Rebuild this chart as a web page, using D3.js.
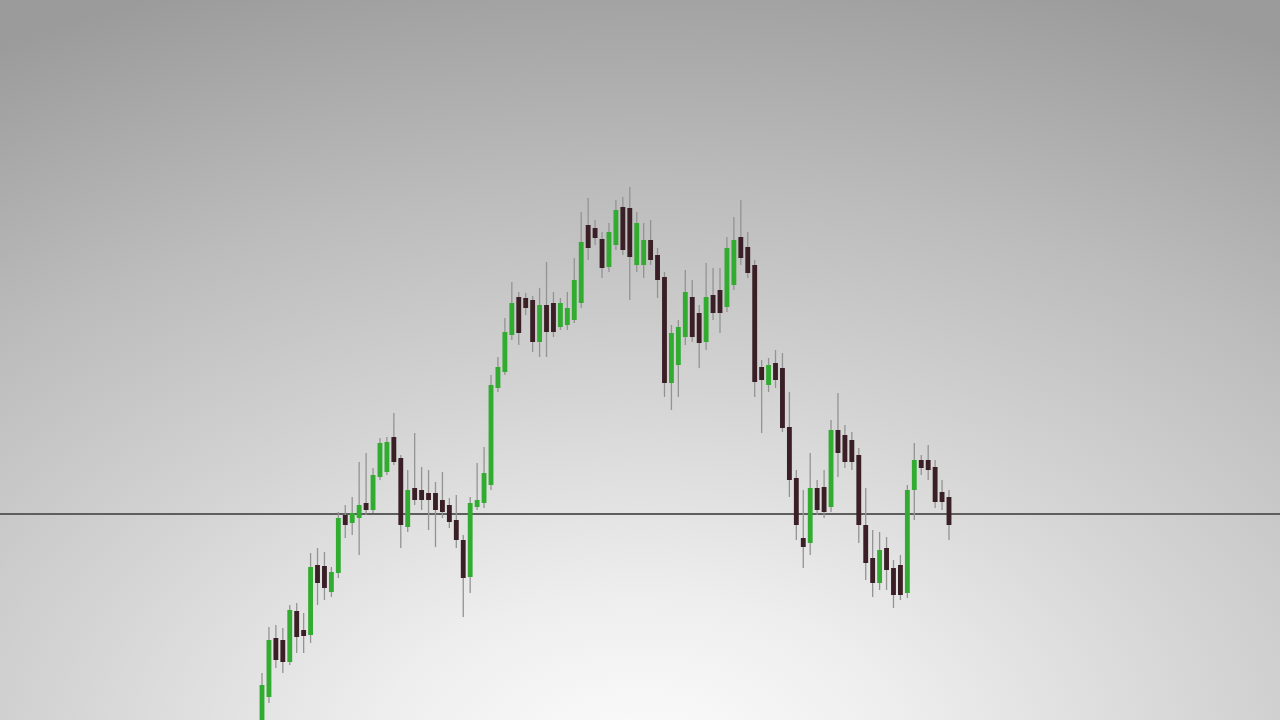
<!DOCTYPE html>
<html>
<head>
<meta charset="utf-8">
<script src="https://cdn.jsdelivr.net/npm/d3@7"></script>
<style>
  html, body { margin: 0; padding: 0; overflow: hidden; background: #ccc; }
  svg { display: block; }
</style>
</head>
<body>
<svg id="chart" width="1280" height="720"></svg>
<script>
// ---- Data (price levels) ----
const openV  = [792,817,876,874,852,903,884,879,949,948,922,941,999,991,996,1011,1004,1037,1042,1077,
                1056,987,1026,1024,1021,1021,1014,1009,994,974,937,1007,1011,1029,1126,1142,1179,1217,1216,1214,
                1172,1209,1211,1187,1189,1194,1211,1289,1286,1275,1247,1269,1307,1306,1249,1249,1274,1259,1237,1131,
                1149,1177,1217,1201,1172,1219,1224,1207,1229,1277,1267,1249,1147,1129,1151,1146,1087,1036,976,971,
                1026,1027,1007,1084,1079,1074,1059,989,956,931,966,946,949,921,1024,1054,1054,1047,1022,1017];
const highV  = [841,887,889,886,909,911,901,961,966,962,947,1002,1009,1017,1052,1061,1046,1076,1077,1101,
                1059,1044,1081,1047,1044,1032,1042,1016,1019,979,1017,1051,1067,1139,1157,1196,1232,1222,1221,1218,
                1226,1252,1222,1216,1222,1256,1302,1316,1294,1282,1291,1314,1317,1327,1302,1291,1294,1266,1242,1189,
                1194,1244,1234,1209,1251,1246,1246,1277,1297,1314,1282,1254,1154,1156,1164,1161,1122,1044,1024,1061,
                1034,1044,1094,1121,1089,1082,1066,1026,984,982,977,954,959,1029,1071,1059,1069,1054,1034,1024];
const lowV   = [789,811,846,841,849,861,861,871,909,914,917,936,976,979,959,999,1001,1034,1039,1049,
                966,982,1009,1004,984,967,996,986,966,897,921,1004,1006,1024,1122,1139,1174,1169,1199,1162,
                1157,1157,1177,1184,1184,1191,1206,1254,1269,1236,1242,1264,1259,1214,1242,1236,1249,1216,1117,1104,
                1117,1169,1172,1146,1164,1194,1181,1202,1224,1249,1236,1117,1081,1122,1126,1082,1017,974,946,959,
                999,996,1002,1037,1046,1044,971,934,917,924,924,906,914,916,994,1039,1034,1006,1004,974];
const closeV = [829,874,854,852,904,877,878,947,931,926,942,996,989,1001,1009,1004,1039,1071,1072,1052,
                989,1024,1014,1014,1014,1004,1002,992,974,936,1011,1014,1041,1129,1147,1182,1211,1181,1206,1172,
                1209,1182,1182,1211,1206,1234,1272,1266,1276,1246,1282,1304,1264,1257,1291,1274,1254,1234,1131,1181,
                1187,1222,1177,1171,1217,1201,1201,1266,1274,1256,1241,1132,1134,1149,1134,1086,1034,989,967,1026,
                1004,1002,1084,1061,1052,1052,989,951,931,964,944,919,919,1024,1054,1046,1044,1012,1012,989];
const levelLine = [1000];
const priceDomain = [794, 1514];

// ---- Build ----
const W = 1280, H = 720;
const svg = d3.select("#chart");
const defs = svg.append("defs");
const grad = defs.append("radialGradient")
  .attr("id", "bg")
  .attr("gradientUnits", "userSpaceOnUse")
  .attr("cx", 640).attr("cy", 760).attr("r", 820)
  .attr("gradientTransform", "translate(640,760) scale(1.6,1) translate(-640,-760)");
[[0, "#fcfcfc"], [0.2, "#eeeeee"], [0.45, "#d4d4d4"], [0.7, "#bcbcbc"], [0.9, "#a6a6a6"], [1, "#9b9b9b"]]
  .forEach(([o, c]) => grad.append("stop").attr("offset", o).attr("stop-color", c));

svg.append("rect").attr("width", W).attr("height", H).attr("fill", "url(#bg)");

const idx = d3.range(openV.length);
const data = idx.map(i => ({ i, o: openV[i], h: highV[i], l: lowV[i], c: closeV[i] }));

const step = (949 - 262) / (idx.length - 1);
const x = d3.scaleBand()
  .domain(idx)
  .range([262 - step / 2, 949 + step / 2])
  .paddingInner(0.3)
  .paddingOuter(0.15);
const y = d3.scaleLinear().domain(priceDomain).range([H, 0]);

// level line
svg.selectAll("line.level").data(levelLine).enter().append("line")
  .attr("class", "level")
  .attr("x1", 0).attr("x2", W)
  .attr("y1", d => y(d)).attr("y2", d => y(d))
  .attr("stroke", "#5e5e5e").attr("stroke-width", 2);

const g = svg.append("g");
const cx = d => x(d.i) + x.bandwidth() / 2;

g.selectAll("line.wick").data(data).enter().append("line")
  .attr("class", "wick")
  .attr("x1", cx).attr("x2", cx)
  .attr("y1", d => y(d.h)).attr("y2", d => y(d.l))
  .attr("stroke", "#939393").attr("stroke-width", 1.3);

g.selectAll("rect.body").data(data).enter().append("rect")
  .attr("class", "body")
  .attr("x", d => x(d.i))
  .attr("width", x.bandwidth())
  .attr("y", d => y(Math.max(d.o, d.c)))
  .attr("height", d => Math.max(1.5, Math.abs(y(d.o) - y(d.c))))
  .attr("fill", d => d.c >= d.o ? "#31ac31" : "#3a2026");
</script>
</body>
</html>
